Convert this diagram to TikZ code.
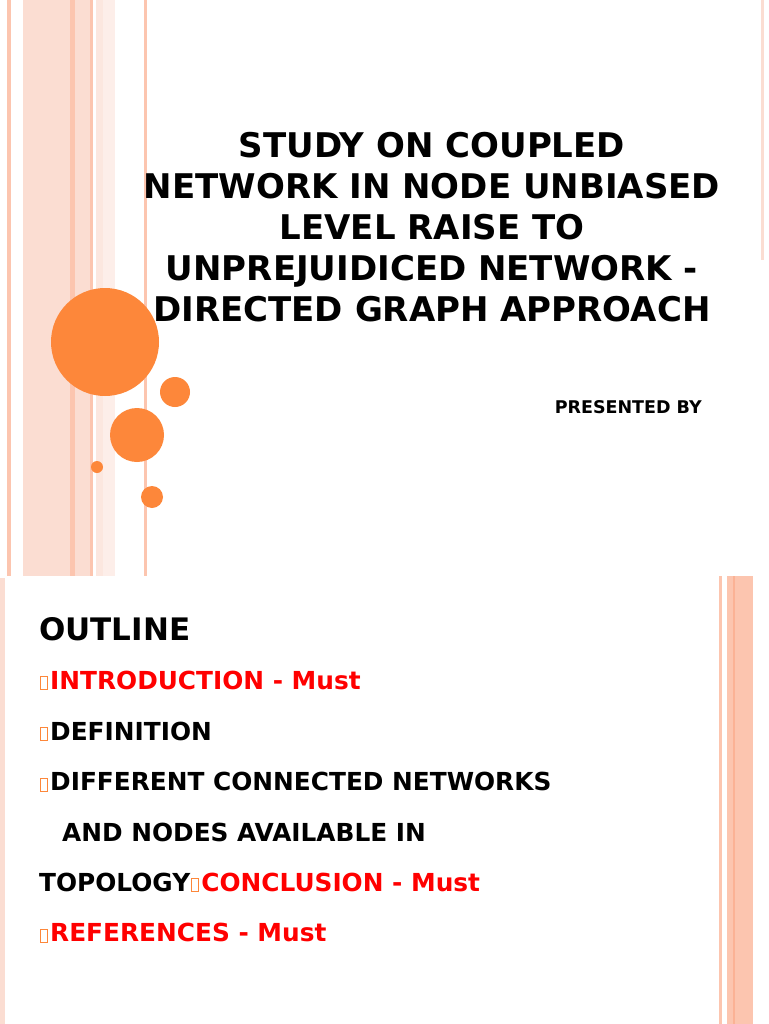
\documentclass[tikz,border=0pt]{standalone}
\usepackage{fontspec}
\setmainfont{DejaVu Sans}
\definecolor{pale}{HTML}{FBDDD2}
\definecolor{mid}{HTML}{FCC5AF}
\definecolor{dark}{HTML}{FBB295}
\definecolor{dot}{HTML}{FD873A}
\definecolor{mustred}{HTML}{FF0000}
\tikzset{x=1pt,y=-1pt,
 ttl/.style={font=\bfseries\fontsize{34}{41}\selectfont,align=center},
 item/.style={font=\bfseries\fontsize{24.8}{28}\selectfont,anchor=base west,inner sep=0},
 bul/.style={draw=dot,line width=0.7pt,minimum width=7pt,minimum height=13pt,inner sep=0,anchor=south west}}
\begin{document}
\begin{tikzpicture}
\useasboundingbox (0,0) rectangle (768,1024);
\fill[white] (0,0) rectangle (768,1024);
% top left stripes
\fill[mid] (7,0) rectangle (11,576);
\fill[pale] (23,0) rectangle (70,576);
\fill[mid] (70,0) rectangle (75,576);
\fill[pale] (75,0) rectangle (90,576);
\fill[mid] (90,0) rectangle (93,576);
\fill[pale!70] (96,0) rectangle (103,576);
\fill[pale!50] (103,0) rectangle (115,576);
\fill[mid] (144,0) rectangle (147,576);
\fill[pale] (761,0) rectangle (764,260);
% bottom stripes
\fill[pale] (0,578) rectangle (5,1024);
\fill[mid] (719,576) rectangle (722,1024);
\fill[mid] (727,576) rectangle (753,1024);
\fill[dark] (733,576) rectangle (735,1024);
% circles
\fill[dot] (105,342) circle (54);
\fill[dot] (175,392) circle (15);
\fill[dot] (137,435) circle (27);
\fill[dot] (97,467) circle (6);
\fill[dot] (152,497) circle (11);
% title
\node[ttl] (title) at (432,227) {STUDY ON COUPLED\\NETWORK IN NODE UNBIASED\\LEVEL RAISE TO\\UNPREJUIDICED NETWORK -\\DIRECTED GRAPH APPROACH};
\node[font=\bfseries\fontsize{17.5}{20}\selectfont,anchor=base east,inner sep=0] (pres) at (702,413) {PRESENTED BY};
% outline
\node[font=\bfseries\fontsize{31}{36}\selectfont,anchor=base west,inner sep=0] (outline) at (39,640) {OUTLINE};
\node[bul] (b1) at (40,690) {};
\node[item,text=mustred] (i1) at (50,689) {INTRODUCTION - Must};
\node[bul] (b2) at (40,741) {};
\node[item] (i2) at (50,740) {DEFINITION};
\node[bul] (b3) at (40,792) {};
\node[item] (i3) at (50,790) {DIFFERENT CONNECTED NETWORKS};
\node[item] (i4) at (62,841) {AND NODES AVAILABLE IN};
\node[item] (i5) at (39,891) {TOPOLOGY};
\node[bul,xshift=1pt,yshift=-1pt] (b4) at (i5.base east) {};
\node[item,text=mustred,xshift=2pt,yshift=1pt] (i6) at (b4.south east) {CONCLUSION - Must};
\node[bul] (b5) at (40,943) {};
\node[item,text=mustred] (i7) at (50,941) {REFERENCES - Must};
\end{tikzpicture}
\end{document}
